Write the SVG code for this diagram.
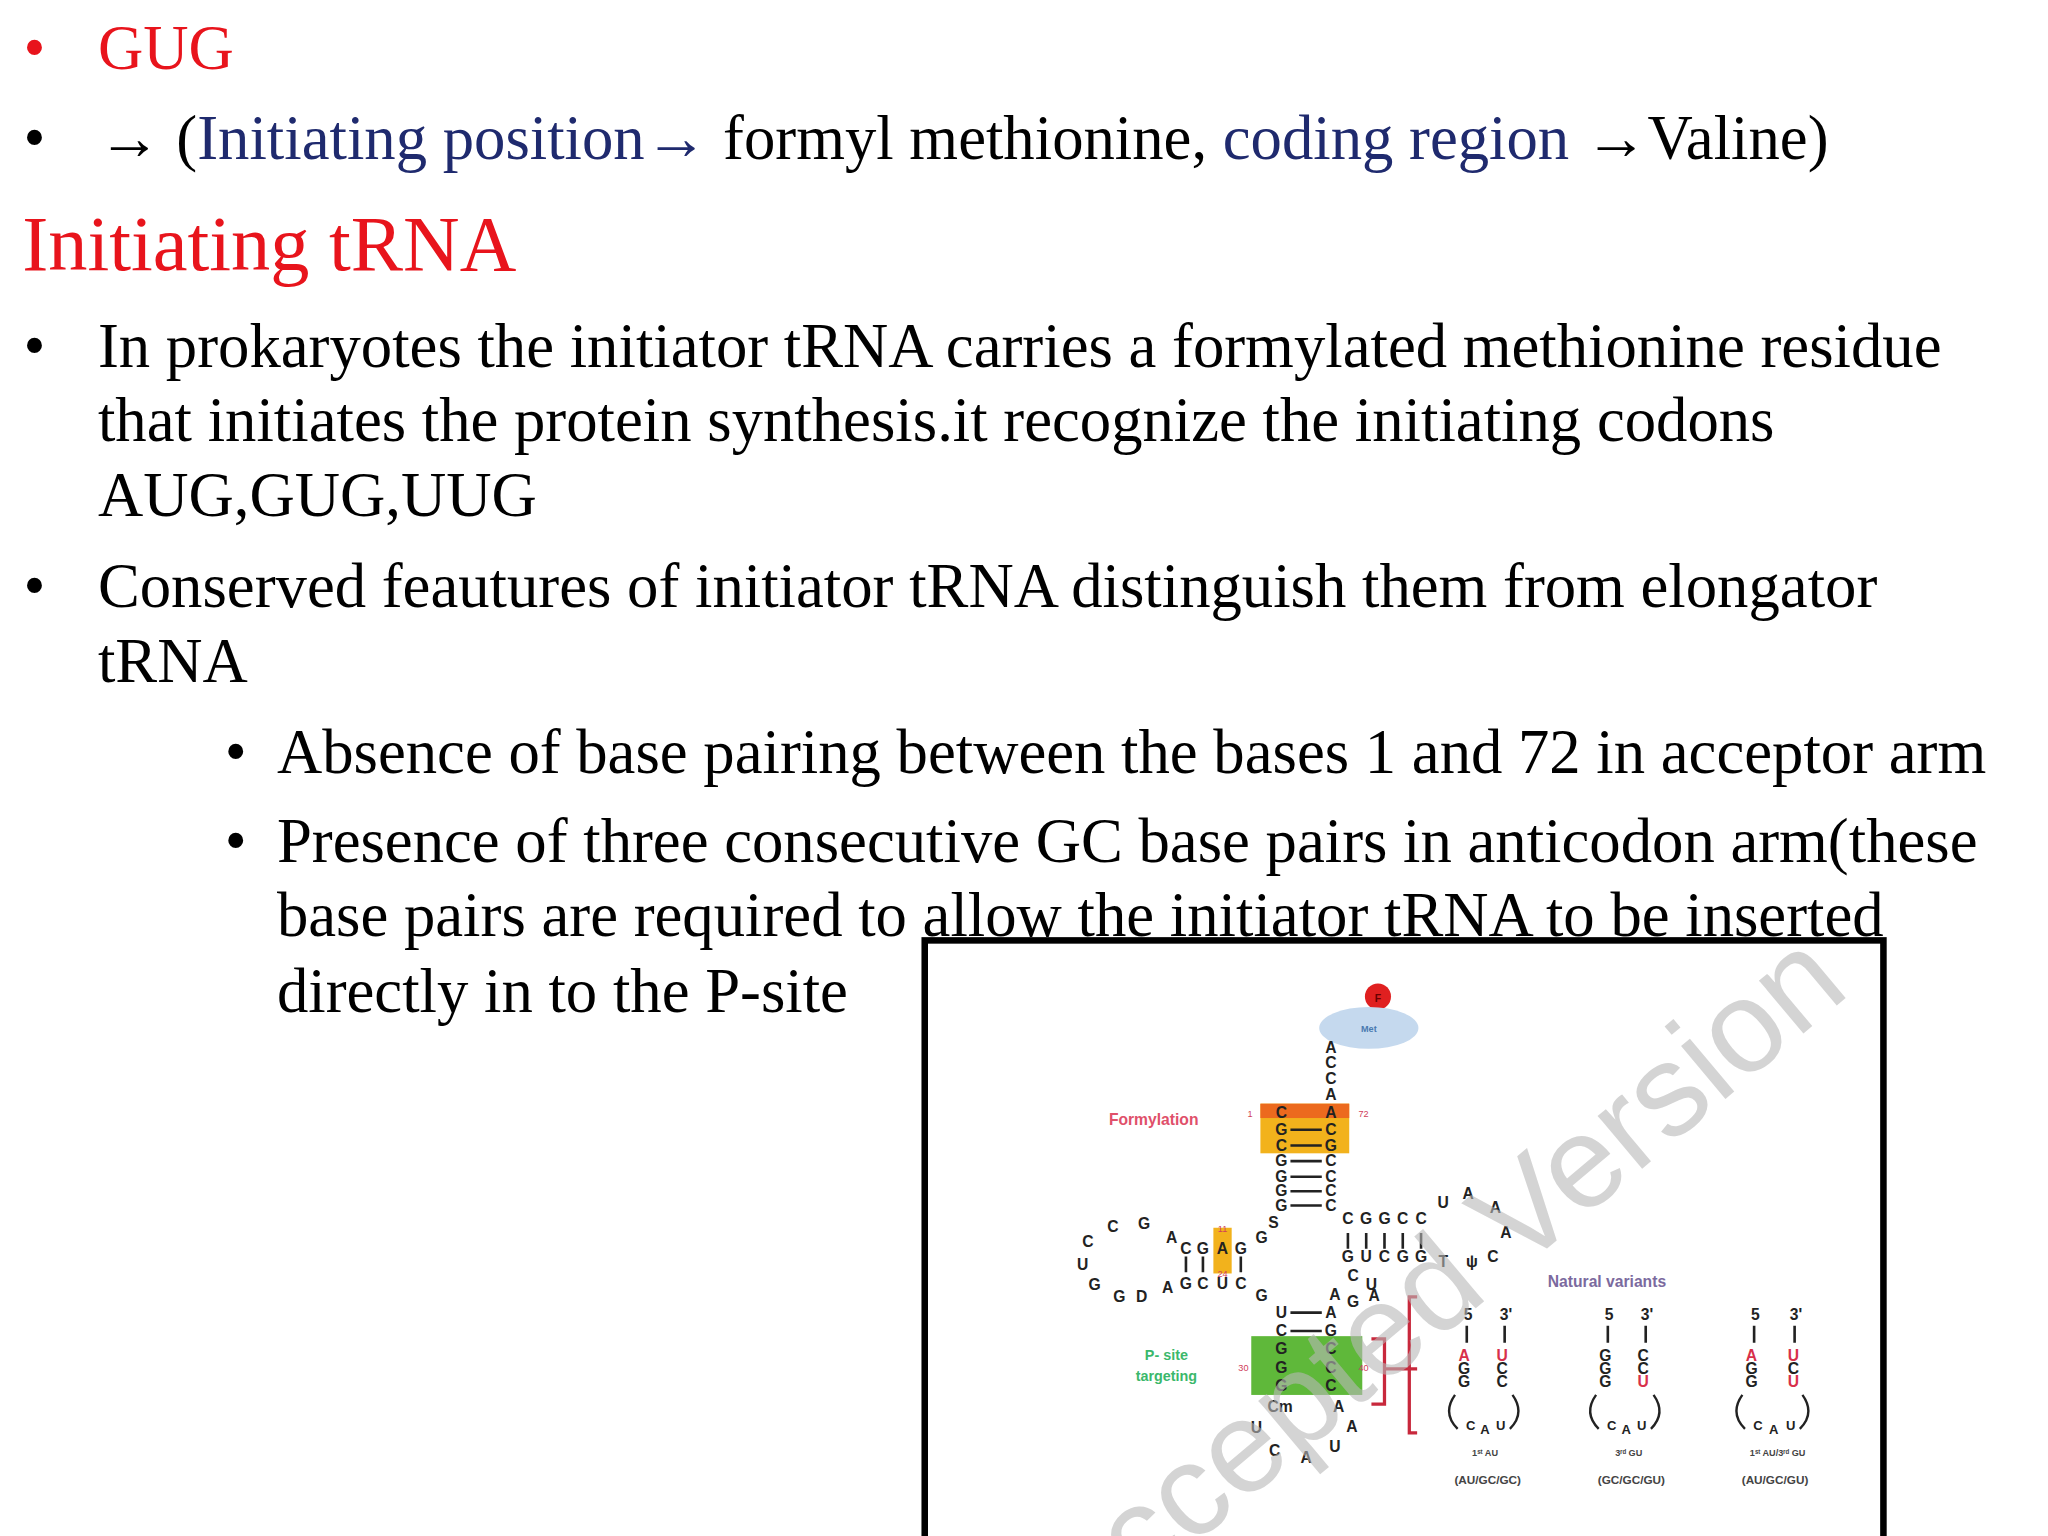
<svg xmlns="http://www.w3.org/2000/svg" width="2048" height="1536" viewBox="0 0 2048 1536">
<style>
.t{font-family:"Liberation Serif",serif;font-size:48px;fill:#000}
.b{fill:#1f2a6e}
.r{fill:#e8141c}
.n{font-family:"Liberation Sans",Arial,sans-serif;font-weight:bold;font-size:12px;fill:#222;text-anchor:middle}
.s{font-family:"Liberation Sans",Arial,sans-serif;font-size:7px;fill:#d0405a;text-anchor:middle}
.bar{stroke:#222;stroke-width:2}
.rd{fill:#d8304a}
.lb{font-family:"Liberation Sans",Arial,sans-serif;font-size:9px;fill:#444;text-anchor:middle;font-weight:bold}
</style>
<rect width="2048" height="1536" fill="#fff"/>
<g transform="scale(1.30612)">
<g id="text">
<text class="t r" x="18" y="53">•</text><text class="t r" x="75" y="53">GUG</text>
<text class="t" x="18" y="122">•</text>
<text class="t" x="75" y="122"><tspan font-weight="bold">→</tspan> (<tspan class="b">Initiating position<tspan font-weight="bold">→</tspan></tspan> formyl methionine, <tspan class="b">coding region</tspan> <tspan font-weight="bold">→</tspan>Valine)</text>
<text class="t r" x="17" y="207" style="font-size:60px">Initiating tRNA</text>
<text class="t" x="18" y="281">•</text>
<text class="t" x="75" y="281">In prokaryotes the initiator tRNA carries a formylated methionine residue</text>
<text class="t" x="75" y="338">that initiates the protein synthesis.it recognize the initiating codons</text>
<text class="t" x="75" y="395">AUG,GUG,UUG</text>
<text class="t" x="18" y="465">•</text>
<text class="t" x="75" y="465">Conserved feautures of initiator tRNA distinguish them from elongator</text>
<text class="t" x="75" y="522">tRNA</text>
<text class="t" x="172" y="592">•</text>
<text class="t" x="212" y="592">Absence of base pairing between the bases  1 and 72 in acceptor arm</text>
<text class="t" x="172" y="660">•</text>
<text class="t" x="212" y="660">Presence of three consecutive GC base pairs  in anticodon arm(these</text>
<text class="t" x="212" y="717">base pairs are required to allow the initiator tRNA to be inserted</text>
<text class="t" x="212" y="775">directly in to the P-site</text>
</g>
<g id="figure">
<rect x="708" y="720" width="734" height="480" fill="#fff" stroke="#000" stroke-width="5"/>
<circle cx="1055" cy="763" r="10" fill="#e02020"/>
<text x="1055" y="767" class="n" style="font-size:8px;fill:#600">F</text>
<ellipse cx="1048" cy="787" rx="38" ry="16" fill="#c5d9ee"/>
<text x="1048" y="790" class="n" style="font-size:7px;fill:#4a7ab0">Met</text>
<text class="n" x="1019" y="806">A</text><text class="n" x="1019" y="818">C</text><text class="n" x="1019" y="830">C</text><text class="n" x="1019" y="842">A</text>
<rect x="965" y="845" width="68" height="38" fill="#f2b21c"/>
<rect x="965" y="845" width="68" height="11" fill="#ec6a1e"/>
<text class="n" style="font-size:12px;fill:#e0506a;text-anchor:start" x="849" y="861">Formylation</text>
<text class="s" x="957" y="855">1</text><text class="s" x="1044" y="855">72</text>
<g id="acceptor">
<text class="n" x="981" y="856">C</text><text class="n" x="1019" y="856">A</text>
<text class="n" x="981" y="869">G</text><text class="n" x="1019" y="869">C</text>
<text class="n" x="981" y="881">C</text><text class="n" x="1019" y="881">G</text>
<text class="n" x="981" y="893">G</text><text class="n" x="1019" y="893">C</text>
<text class="n" x="981" y="905">G</text><text class="n" x="1019" y="905">C</text>
<text class="n" x="981" y="916">G</text><text class="n" x="1019" y="916">C</text>
<text class="n" x="981" y="927">G</text><text class="n" x="1019" y="927">C</text>
</g>
<g id="connectors">
<path class="bar" d="M988 865h24M988 877h24M988 889h24M988 901h24M988 912h24M988 923h24"/>
<path class="bar" d="M1032 944v12M1046 944v12M1060 944v12M1074 944v12M1088 944v12"/>
<path class="bar" d="M908 962v12M921 962v12M936 962v12M950 962v12"/>
<path class="bar" d="M988 1005h24M988 1019h24M988 1033h24M988 1047h24M988 1061h24"/>
<path d="M1050 1025h10v50h-10M1060 1048h25M1085 993h-6v104h6" fill="none" stroke="#c8283c" stroke-width="2.5"/>
</g>
<text class="n" x="975" y="940">S</text>
<text class="n" x="1032" y="937">C</text><text class="n" x="1046" y="937">G</text><text class="n" x="1060" y="937">G</text><text class="n" x="1074" y="937">C</text><text class="n" x="1088" y="937">C</text>
<text class="n" x="1032" y="966">G</text><text class="n" x="1046" y="966">U</text><text class="n" x="1060" y="966">C</text><text class="n" x="1074" y="966">G</text><text class="n" x="1088" y="966">G</text>
<text class="n" x="1105" y="970">T</text><text class="n" x="1127" y="970">ψ</text>
<text class="n" x="1105" y="925">U</text><text class="n" x="1124" y="918">A</text><text class="n" x="1145" y="929">A</text><text class="n" x="1153" y="948">A</text><text class="n" x="1143" y="966">C</text>
<text class="n" x="1036" y="981">C</text><text class="n" x="1050" y="988">U</text>
<rect x="929" y="940" width="14" height="35" fill="#f2b21c"/>
<text class="s" x="936" y="943">11</text><text class="s" x="936" y="978">24</text>
<text class="n" x="852" y="943">C</text><text class="n" x="876" y="941">G</text><text class="n" x="897" y="952">A</text><text class="n" x="833" y="955">C</text>
<text class="n" x="908" y="960">C</text><text class="n" x="921" y="960">G</text><text class="n" x="936" y="960">A</text><text class="n" x="950" y="960">G</text><text class="n" x="966" y="952">G</text>
<text class="n" x="829" y="972">U</text><text class="n" x="838" y="988">G</text><text class="n" x="857" y="997">G</text><text class="n" x="874" y="997">D</text><text class="n" x="894" y="990">A</text>
<text class="n" x="908" y="987">G</text><text class="n" x="921" y="987">C</text><text class="n" x="936" y="987">U</text><text class="n" x="950" y="987">C</text><text class="n" x="966" y="996">G</text>
<text class="n" x="1022" y="995">A</text><text class="n" x="1036" y="1001">G</text><text class="n" x="1052" y="996">A</text>
<rect x="958" y="1023" width="85" height="45" fill="#5fb83a"/>
<text class="n" x="981" y="1009">U</text><text class="n" x="1019" y="1009">A</text>
<text class="n" x="981" y="1023">C</text><text class="n" x="1019" y="1023">G</text>
<text class="n" x="981" y="1037">G</text><text class="n" x="1019" y="1037">C</text>
<text class="n" x="981" y="1051">G</text><text class="n" x="1019" y="1051">C</text>
<text class="n" x="981" y="1065">G</text><text class="n" x="1019" y="1065">C</text>
<text class="s" x="952" y="1050">30</text><text class="s" x="1044" y="1050">40</text>
<text class="n" style="fill:#3bb86b;font-size:11px" x="893" y="1041">P- site</text>
<text class="n" style="fill:#3bb86b;font-size:11px" x="893" y="1057">targeting</text>
<text class="n" x="980" y="1081">Cm</text><text class="n" x="1025" y="1081">A</text>
<text class="n" x="962" y="1097">U</text><text class="n" x="1035" y="1096">A</text>
<text class="n" x="976" y="1115">C</text><text class="n" x="1000" y="1120">A</text><text class="n" x="1022" y="1112">U</text>
<text class="n" style="fill:#7b6a9e;text-anchor:start" x="1185" y="985">Natural variants</text>
<g id="variant1">
<text class="n" x="1124" y="1011">5</text><text class="n" x="1153" y="1011">3'</text>
<path class="bar" d="M1123 1015v13M1152 1015v13"/>
<text class="n rd" x="1121" y="1042">A</text><text class="n" x="1121" y="1052">G</text><text class="n" x="1121" y="1062">G</text>
<text class="n rd" x="1150" y="1042">U</text><text class="n" x="1150" y="1052">C</text><text class="n" x="1150" y="1062">C</text>
<path d="M1114 1068q-10 14 2 26M1158 1068q10 14-2 26" fill="none" stroke="#222" stroke-width="1.8"/>
<text class="n" style="font-size:10px" x="1126" y="1095">C</text><text class="n" style="font-size:10px" x="1137" y="1098">A</text><text class="n" style="font-size:10px" x="1149" y="1095">U</text>
<text class="lb" style="font-size:7px" x="1137" y="1115">1ˢᵗ AU</text><text class="lb" x="1139" y="1136">(AU/GC/GC)</text>
</g>
<g id="variant2">
<text class="n" x="1232" y="1011">5</text><text class="n" x="1261" y="1011">3'</text>
<path class="bar" d="M1231 1015v13M1260 1015v13"/>
<text class="n" x="1229" y="1042">G</text><text class="n" x="1229" y="1052">G</text><text class="n" x="1229" y="1062">G</text>
<text class="n" x="1258" y="1042">C</text><text class="n" x="1258" y="1052">C</text><text class="n rd" x="1258" y="1062">U</text>
<path d="M1222 1068q-10 14 2 26M1266 1068q10 14-2 26" fill="none" stroke="#222" stroke-width="1.8"/>
<text class="n" style="font-size:10px" x="1234" y="1095">C</text><text class="n" style="font-size:10px" x="1245" y="1098">A</text><text class="n" style="font-size:10px" x="1257" y="1095">U</text>
<text class="lb" style="font-size:7px" x="1247" y="1115">3ʳᵈ GU</text><text class="lb" x="1249" y="1136">(GC/GC/GU)</text>
</g>
<g id="variant3">
<text class="n" x="1344" y="1011">5</text><text class="n" x="1375" y="1011">3'</text>
<path class="bar" d="M1343 1015v13M1374 1015v13"/>
<text class="n rd" x="1341" y="1042">A</text><text class="n" x="1341" y="1052">G</text><text class="n" x="1341" y="1062">G</text>
<text class="n rd" x="1373" y="1042">U</text><text class="n" x="1373" y="1052">C</text><text class="n rd" x="1373" y="1062">U</text>
<path d="M1334 1068q-10 14 2 26M1380 1068q10 14-2 26" fill="none" stroke="#222" stroke-width="1.8"/>
<text class="n" style="font-size:10px" x="1346" y="1095">C</text><text class="n" style="font-size:10px" x="1358" y="1098">A</text><text class="n" style="font-size:10px" x="1371" y="1095">U</text>
<text class="lb" style="font-size:7px" x="1361" y="1115">1ˢᵗ AU/3ʳᵈ GU</text><text class="lb" x="1359" y="1136">(AU/GC/GU)</text>
</g>
<text x="1120" y="1010" transform="rotate(-40 1120 1010)" text-anchor="middle" style="font-family:'Liberation Sans',Arial,sans-serif;font-size:100px;fill:#b8b8b8;fill-opacity:0.6">Accepted Version</text>
</g>
</g>
</svg>
